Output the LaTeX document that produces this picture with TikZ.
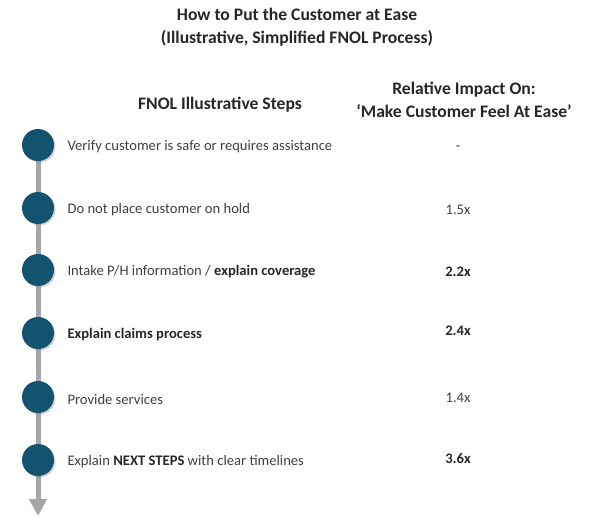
\documentclass[tikz,border=0pt]{standalone}
\usepackage{fontspec}
\setmainfont{Carlito}
\usetikzlibrary{arrows.meta,shadows}
\definecolor{stepblue}{HTML}{14536F}
\definecolor{railgray}{HTML}{A6A6A6}
\definecolor{textgray}{HTML}{404040}
\definecolor{headgray}{HTML}{262626}
\tikzset{
  dot/.style={circle,fill=stepblue,minimum size=32pt,inner sep=0pt,
    drop shadow={shadow xshift=1.5pt,shadow yshift=-1.5pt,opacity=.35}},
  steptext/.style={anchor=west,text=textgray,font=\fontsize{14.6}{17}\selectfont},
  impact/.style={text=textgray,font=\fontsize{14.6}{17}\selectfont},
  heading/.style={text=headgray,font=\bfseries\fontsize{17.6}{23.5}\selectfont,align=center}
}
\begin{document}
\begin{tikzpicture}[x=1pt,y=-1pt]
            \useasboundingbox (0,0) rectangle (593,529);
            \node[heading] (title) at (297,27) {How to Put the Customer at Ease\\(Illustrative, Simplified FNOL Process)};
            \node[heading] (lefthead) at (220,105) {FNOL Illustrative Steps};
            \node[heading] (righthead) at (464,100) {Relative Impact On:\\`Make Customer Feel At Ease'};
            % rail and arrow
            \coordinate (railend) at (38,516);
            \coordinate (railtop) at (38,145);
            \draw[railgray,line width=5pt,-{Triangle[width=17pt,length=17pt]}] (railtop) -- (railend);
            % steps
            \foreach \n/\y/\vy/\txt/\val in {
                1/145/148/{Verify customer is safe or requires assistance}/{-},
                2/208/210/{Do not place customer on hold}/{1.5x},
                3/270/272/{Intake P/H information / \textbf{\color{headgray}explain coverage}}/{\textbf{\color{headgray}2.2x}},
                4/333/331/{\textbf{\color{headgray}Explain claims process}}/{\textbf{\color{headgray}2.4x}},
                5/397/398/{Provide services}/{1.4x},
                6/460/459/{Explain \textbf{\color{headgray}NEXT STEPS} with clear timelines}/{\textbf{\color{headgray}3.6x}}}
            {
            \node[dot] (dot\n) at (38,\y) {};
            \node[steptext] (step\n) at (64,\y+2) {\txt};
            \node[impact] (val\n) at (458,\vy) {\val};
            }
        \end{tikzpicture}
\end{document}
